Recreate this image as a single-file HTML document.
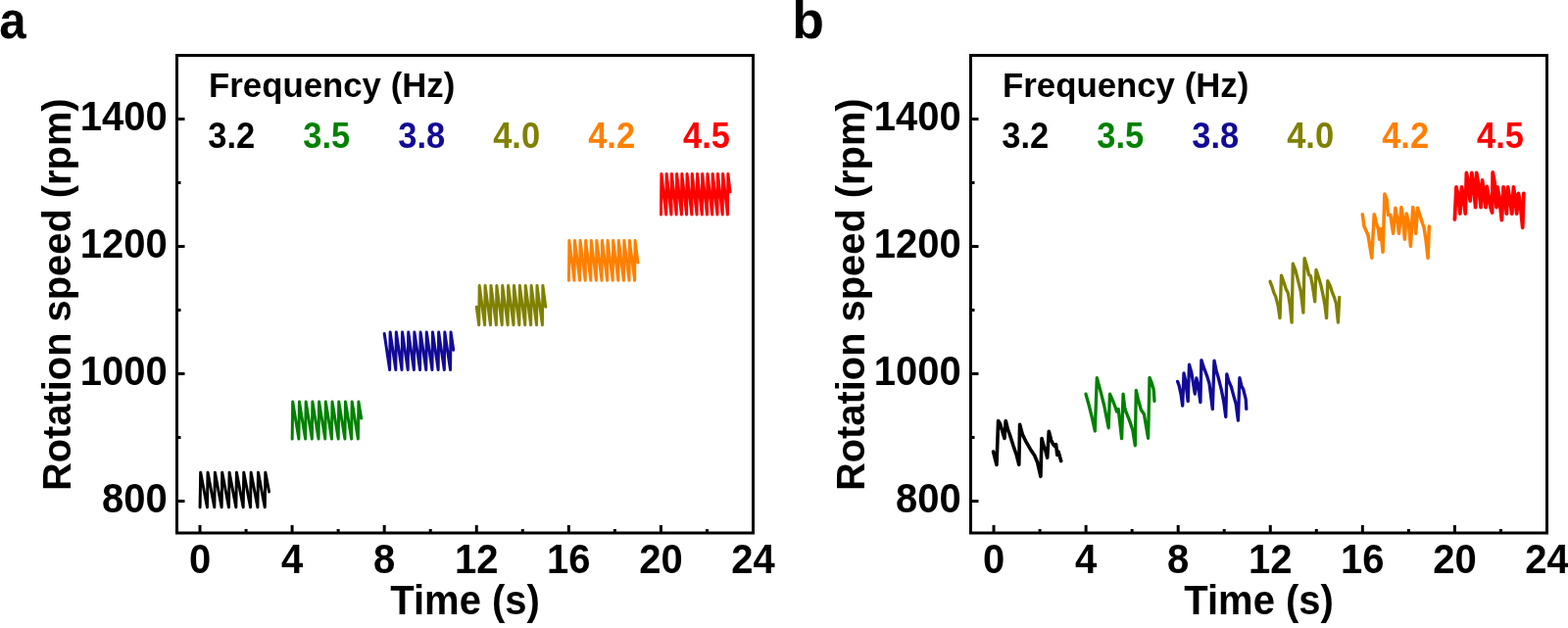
<!DOCTYPE html>
<html><head><meta charset="utf-8"><title>Rotation speed vs time</title>
<style>html,body{margin:0;padding:0;background:#fff;}svg{display:block;}</style></head>
<body><svg width="1600" height="641" viewBox="0 0 1600 641" font-family="'Liberation Sans', Arial, Helvetica, sans-serif" font-weight="bold">
<rect width="1600" height="641" fill="#fff"/>
<rect x="180.5" y="56.5" width="588" height="487.5" fill="none" stroke="#000" stroke-width="3"/>
<line x1="204.02" y1="544.0" x2="204.02" y2="536.0" stroke="#000" stroke-width="3"/>
<line x1="251.06" y1="544.0" x2="251.06" y2="540.0" stroke="#000" stroke-width="3"/>
<line x1="298.10" y1="544.0" x2="298.10" y2="536.0" stroke="#000" stroke-width="3"/>
<line x1="345.14" y1="544.0" x2="345.14" y2="540.0" stroke="#000" stroke-width="3"/>
<line x1="392.18" y1="544.0" x2="392.18" y2="536.0" stroke="#000" stroke-width="3"/>
<line x1="439.22" y1="544.0" x2="439.22" y2="540.0" stroke="#000" stroke-width="3"/>
<line x1="486.26" y1="544.0" x2="486.26" y2="536.0" stroke="#000" stroke-width="3"/>
<line x1="533.30" y1="544.0" x2="533.30" y2="540.0" stroke="#000" stroke-width="3"/>
<line x1="580.34" y1="544.0" x2="580.34" y2="536.0" stroke="#000" stroke-width="3"/>
<line x1="627.38" y1="544.0" x2="627.38" y2="540.0" stroke="#000" stroke-width="3"/>
<line x1="674.42" y1="544.0" x2="674.42" y2="536.0" stroke="#000" stroke-width="3"/>
<line x1="721.46" y1="544.0" x2="721.46" y2="540.0" stroke="#000" stroke-width="3"/>
<line x1="180.5" y1="511.50" x2="188.5" y2="511.50" stroke="#000" stroke-width="3"/>
<line x1="180.5" y1="446.50" x2="184.5" y2="446.50" stroke="#000" stroke-width="3"/>
<line x1="180.5" y1="381.50" x2="188.5" y2="381.50" stroke="#000" stroke-width="3"/>
<line x1="180.5" y1="316.50" x2="184.5" y2="316.50" stroke="#000" stroke-width="3"/>
<line x1="180.5" y1="251.50" x2="188.5" y2="251.50" stroke="#000" stroke-width="3"/>
<line x1="180.5" y1="186.50" x2="184.5" y2="186.50" stroke="#000" stroke-width="3"/>
<line x1="180.5" y1="121.50" x2="188.5" y2="121.50" stroke="#000" stroke-width="3"/>
<text transform="translate(204.02,585.00) scale(1,1.04)" font-size="40" text-anchor="middle">0</text>
<text transform="translate(298.10,585.00) scale(1,1.04)" font-size="40" text-anchor="middle">4</text>
<text transform="translate(392.18,585.00) scale(1,1.04)" font-size="40" text-anchor="middle">8</text>
<text transform="translate(486.26,585.00) scale(1,1.04)" font-size="40" text-anchor="middle">12</text>
<text transform="translate(580.34,585.00) scale(1,1.04)" font-size="40" text-anchor="middle">16</text>
<text transform="translate(674.42,585.00) scale(1,1.04)" font-size="40" text-anchor="middle">20</text>
<text transform="translate(768.50,585.00) scale(1,1.04)" font-size="40" text-anchor="middle">24</text>
<text transform="translate(170.80,523.30) scale(1,1.04)" font-size="40" text-anchor="end">800</text>
<text transform="translate(170.80,393.30) scale(1,1.04)" font-size="40" text-anchor="end">1000</text>
<text transform="translate(170.80,263.30) scale(1,1.04)" font-size="40" text-anchor="end">1200</text>
<text transform="translate(170.80,133.30) scale(1,1.04)" font-size="40" text-anchor="end">1400</text>
<text transform="translate(398.30,626.90) scale(1,1.04)" font-size="40">Time (s)</text>
<text transform="translate(72.2,501.0) rotate(-90) scale(1,1.04)" font-size="39.85">Rotation speed (rpm)</text>
<text x="213.00" y="98.90" font-size="34.8">Frequency (Hz)</text>
<text transform="translate(212.30,150.80) scale(1,1.07)" font-size="34.5" fill="#000000">3.2</text>
<text transform="translate(309.26,150.80) scale(1,1.07)" font-size="34.5" fill="#008000">3.5</text>
<text transform="translate(406.22,150.80) scale(1,1.07)" font-size="34.5" fill="#120a96">3.8</text>
<text transform="translate(503.18,150.80) scale(1,1.07)" font-size="34.5" fill="#808000">4.0</text>
<text transform="translate(600.14,150.80) scale(1,1.07)" font-size="34.5" fill="#ff8000">4.2</text>
<text transform="translate(697.10,150.80) scale(1,1.07)" font-size="34.5" fill="#ff0000">4.5</text>
<text transform="translate(-0.8,39) scale(0.92,1)" font-size="53.5">a</text>
<polyline points="204.02,517.43 204.09,517.80 204.68,482.19 211.44,517.81 212.03,482.19 218.79,517.80 219.38,482.19 226.14,517.80 226.73,482.19 233.49,517.80 234.08,482.19 240.84,517.81 241.43,482.19 248.19,517.81 248.78,482.19 255.54,517.81 256.13,482.19 262.89,517.81 263.48,482.19 270.24,517.81 270.83,482.19 274.58,501.95" fill="none" stroke="#000000" stroke-width="3" stroke-linejoin="round" stroke-linecap="round"/>
<polyline points="298.10,447.56 298.17,447.99 298.71,409.97 304.89,447.99 305.43,409.97 311.61,447.99 312.15,409.97 318.33,447.99 318.87,409.97 325.05,447.99 325.59,409.97 331.77,447.99 332.31,409.97 338.49,448.00 339.03,409.97 345.21,447.99 345.75,409.97 351.93,447.99 352.47,409.97 358.65,447.99 359.19,409.97 365.37,447.99 365.91,409.97 368.66,426.90" fill="none" stroke="#008000" stroke-width="3" stroke-linejoin="round" stroke-linecap="round"/>
<polyline points="392.18,340.58 397.64,377.47 398.13,338.99 403.83,377.47 404.32,338.99 410.02,377.47 410.51,338.99 416.21,377.47 416.70,338.99 422.40,377.47 422.89,338.99 428.59,377.47 429.08,338.99 434.78,377.47 435.27,338.99 440.97,377.47 441.46,338.99 447.15,377.47 447.65,338.99 453.34,377.47 453.84,338.99 459.53,377.47 460.03,338.99 462.74,357.31" fill="none" stroke="#120a96" stroke-width="3" stroke-linejoin="round" stroke-linecap="round"/>
<polyline points="486.26,313.34 488.73,331.71 489.20,291.48 494.61,331.71 495.08,291.48 500.49,331.71 500.96,291.48 506.37,331.71 506.84,291.48 512.25,331.71 512.72,291.48 518.13,331.71 518.60,291.48 524.01,331.71 524.48,291.48 529.89,331.71 530.36,291.48 535.77,331.71 536.24,291.48 541.65,331.71 542.12,291.48 547.53,331.71 548.00,291.48 553.41,331.71 553.88,291.48 556.82,313.34" fill="none" stroke="#808000" stroke-width="3" stroke-linejoin="round" stroke-linecap="round"/>
<polyline points="580.34,285.72 580.41,286.27 580.86,245.52 586.01,286.27 586.46,245.52 591.61,286.27 592.06,245.52 597.21,286.27 597.66,245.52 602.81,286.27 603.26,245.52 608.41,286.27 608.86,245.52 614.01,286.27 614.46,245.52 619.61,286.27 620.06,245.52 625.21,286.27 625.66,245.52 630.81,286.27 631.26,245.52 636.41,286.27 636.86,245.52 642.01,286.27 642.46,245.52 647.61,286.27 648.06,245.52 650.90,268.00" fill="none" stroke="#ff8000" stroke-width="3" stroke-linejoin="round" stroke-linecap="round"/>
<polyline points="674.42,218.39 674.49,219.00 674.91,177.53 679.72,219.00 680.14,177.53 684.94,219.00 685.36,177.53 690.17,219.00 690.59,177.53 695.40,219.00 695.82,177.53 700.62,219.00 701.04,177.53 705.85,219.00 706.27,177.53 711.08,219.00 711.50,177.53 716.30,219.00 716.72,177.53 721.53,219.00 721.95,177.53 726.76,219.00 727.18,177.53 731.98,219.00 732.40,177.53 737.21,219.00 737.63,177.53 742.44,219.00 742.86,177.53 744.98,195.85" fill="none" stroke="#ff0000" stroke-width="3" stroke-linejoin="round" stroke-linecap="round"/>
<rect x="990.5" y="56.5" width="588" height="487.5" fill="none" stroke="#000" stroke-width="3"/>
<line x1="1014.02" y1="544.0" x2="1014.02" y2="536.0" stroke="#000" stroke-width="3"/>
<line x1="1061.06" y1="544.0" x2="1061.06" y2="540.0" stroke="#000" stroke-width="3"/>
<line x1="1108.10" y1="544.0" x2="1108.10" y2="536.0" stroke="#000" stroke-width="3"/>
<line x1="1155.14" y1="544.0" x2="1155.14" y2="540.0" stroke="#000" stroke-width="3"/>
<line x1="1202.18" y1="544.0" x2="1202.18" y2="536.0" stroke="#000" stroke-width="3"/>
<line x1="1249.22" y1="544.0" x2="1249.22" y2="540.0" stroke="#000" stroke-width="3"/>
<line x1="1296.26" y1="544.0" x2="1296.26" y2="536.0" stroke="#000" stroke-width="3"/>
<line x1="1343.30" y1="544.0" x2="1343.30" y2="540.0" stroke="#000" stroke-width="3"/>
<line x1="1390.34" y1="544.0" x2="1390.34" y2="536.0" stroke="#000" stroke-width="3"/>
<line x1="1437.38" y1="544.0" x2="1437.38" y2="540.0" stroke="#000" stroke-width="3"/>
<line x1="1484.42" y1="544.0" x2="1484.42" y2="536.0" stroke="#000" stroke-width="3"/>
<line x1="1531.46" y1="544.0" x2="1531.46" y2="540.0" stroke="#000" stroke-width="3"/>
<line x1="990.5" y1="511.50" x2="998.5" y2="511.50" stroke="#000" stroke-width="3"/>
<line x1="990.5" y1="446.50" x2="994.5" y2="446.50" stroke="#000" stroke-width="3"/>
<line x1="990.5" y1="381.50" x2="998.5" y2="381.50" stroke="#000" stroke-width="3"/>
<line x1="990.5" y1="316.50" x2="994.5" y2="316.50" stroke="#000" stroke-width="3"/>
<line x1="990.5" y1="251.50" x2="998.5" y2="251.50" stroke="#000" stroke-width="3"/>
<line x1="990.5" y1="186.50" x2="994.5" y2="186.50" stroke="#000" stroke-width="3"/>
<line x1="990.5" y1="121.50" x2="998.5" y2="121.50" stroke="#000" stroke-width="3"/>
<text transform="translate(1014.02,585.00) scale(1,1.04)" font-size="40" text-anchor="middle">0</text>
<text transform="translate(1108.10,585.00) scale(1,1.04)" font-size="40" text-anchor="middle">4</text>
<text transform="translate(1202.18,585.00) scale(1,1.04)" font-size="40" text-anchor="middle">8</text>
<text transform="translate(1296.26,585.00) scale(1,1.04)" font-size="40" text-anchor="middle">12</text>
<text transform="translate(1390.34,585.00) scale(1,1.04)" font-size="40" text-anchor="middle">16</text>
<text transform="translate(1484.42,585.00) scale(1,1.04)" font-size="40" text-anchor="middle">20</text>
<text transform="translate(1578.50,585.00) scale(1,1.04)" font-size="40" text-anchor="middle">24</text>
<text transform="translate(980.80,523.30) scale(1,1.04)" font-size="40" text-anchor="end">800</text>
<text transform="translate(980.80,393.30) scale(1,1.04)" font-size="40" text-anchor="end">1000</text>
<text transform="translate(980.80,263.30) scale(1,1.04)" font-size="40" text-anchor="end">1200</text>
<text transform="translate(980.80,133.30) scale(1,1.04)" font-size="40" text-anchor="end">1400</text>
<text transform="translate(1208.30,626.90) scale(1,1.04)" font-size="40">Time (s)</text>
<text transform="translate(882.2,501.0) rotate(-90) scale(1,1.04)" font-size="39.85">Rotation speed (rpm)</text>
<text x="1023.00" y="98.90" font-size="34.8">Frequency (Hz)</text>
<text transform="translate(1022.30,150.80) scale(1,1.07)" font-size="34.5" fill="#000000">3.2</text>
<text transform="translate(1119.26,150.80) scale(1,1.07)" font-size="34.5" fill="#008000">3.5</text>
<text transform="translate(1216.22,150.80) scale(1,1.07)" font-size="34.5" fill="#120a96">3.8</text>
<text transform="translate(1313.18,150.80) scale(1,1.07)" font-size="34.5" fill="#808000">4.0</text>
<text transform="translate(1410.14,150.80) scale(1,1.07)" font-size="34.5" fill="#ff8000">4.2</text>
<text transform="translate(1507.10,150.80) scale(1,1.07)" font-size="34.5" fill="#ff0000">4.5</text>
<text x="808.20" y="39.00" font-size="53.5">b</text>
<polyline points="1013.6,461.0 1017.0,474.5 1018.6,429.5 1020.5,432.5 1022.6,439.5 1025.0,447.5 1026.2,429.5 1028.2,437.5 1030.5,444.0 1034.0,455.0 1037.3,464.5 1039.8,474.3 1040.6,433.3 1043.4,443.6 1046.7,450.3 1051.2,458.2 1055.7,465.0 1058.5,471.7 1061.9,486.3 1063.0,447.5 1065.3,456.0 1067.0,460.4 1068.7,467.2 1070.3,440.2 1072.6,449.2 1074.8,453.7 1076.5,455.5 1077.6,453.7 1078.8,464.4 1080.0,461.0 1082.7,470.6" fill="none" stroke="#000000" stroke-width="3.6" stroke-linejoin="round" stroke-linecap="round"/>
<polyline points="1108.0,402.2 1111.0,413.0 1114.0,425.0 1117.3,440.0 1119.3,385.6 1122.6,397.6 1126.6,413.5 1131.2,436.8 1132.5,402.2 1135.2,408.2 1137.8,414.8 1139.5,420.0 1141.2,417.5 1144.6,447.7 1146.1,402.1 1147.6,415.3 1148.6,419.3 1152.2,428.4 1155.7,438.6 1158.3,454.8 1159.3,398.5 1161.3,407.2 1164.3,418.3 1167.4,422.8 1171.6,447.3 1173.0,385.5 1175.1,390.4 1177.2,397.5 1178.0,409.4" fill="none" stroke="#008000" stroke-width="3.3" stroke-linejoin="round" stroke-linecap="round"/>
<polyline points="1201.6,389.4 1203.1,393.4 1205.1,402.6 1206.7,414.2 1208.0,380.8 1209.7,388.4 1212.2,409.6 1213.5,372.2 1215.8,380.3 1219.3,402.0 1220.9,386.0 1222.4,392.4 1224.9,410.7 1225.9,367.6 1228.4,375.2 1231.5,383.3 1234.0,391.4 1237.3,417.6 1239.0,368.1 1241.2,378.7 1243.1,385.0 1246.2,397.4 1248.7,409.9 1250.8,425.5 1251.8,381.8 1253.7,388.7 1256.2,394.3 1258.7,403.6 1261.2,412.4 1263.4,429.2 1264.9,385.6 1266.8,393.7 1268.7,397.4 1271.2,407.4 1271.8,417.4" fill="none" stroke="#120a96" stroke-width="3.3" stroke-linejoin="round" stroke-linecap="round"/>
<polyline points="1296.0,287.3 1298.1,292.9 1300.0,299.1 1301.8,302.9 1304.3,312.9 1306.0,324.7 1307.5,281.1 1310.0,288.0 1312.4,295.4 1314.3,299.1 1316.2,310.4 1318.1,329.1 1319.3,269.2 1321.8,275.5 1324.3,285.4 1327.4,297.9 1329.9,319.1 1331.1,263.6 1333.6,271.7 1335.5,280.4 1337.4,281.7 1339.0,290.0 1340.5,299.1 1341.7,307.9 1343.0,275.5 1345.5,283.0 1348.0,291.7 1350.4,302.9 1352.0,312.0 1353.6,324.7 1354.8,286.7 1357.3,291.7 1359.2,297.9 1361.7,304.1 1363.5,310.4 1365.4,329.1 1366.7,303.5" fill="none" stroke="#808000" stroke-width="3.3" stroke-linejoin="round" stroke-linecap="round"/>
<polyline points="1390.3,218.7 1392.0,231.0 1396.0,240.0 1399.8,263.2 1402.2,218.7 1404.5,228.0 1406.5,234.0 1407.5,244.2 1408.7,233.5 1411.1,257.2 1412.9,197.9 1415.2,204.0 1416.4,219.3 1418.8,219.3 1421.6,238.3 1423.9,212.2 1425.5,222.0 1427.5,238.3 1429.9,211.6 1431.5,222.0 1433.4,244.2 1435.2,218.1 1437.5,228.0 1439.4,251.3 1441.7,211.6 1443.2,222.0 1444.7,238.3 1446.5,212.2 1449.0,220.0 1451.5,228.0 1453.0,232.0 1455.0,245.0 1457.1,263.2 1458.3,231.1" fill="none" stroke="#ff8000" stroke-width="3.5" stroke-linejoin="round" stroke-linecap="round"/>
<polyline points="1484.4,224.0 1486.0,191.0 1488.0,200.0 1489.8,218.0 1491.5,191.0 1493.0,200.0 1495.3,218.0 1496.4,176.5 1498.0,185.0 1500.2,205.0 1501.8,176.5 1503.5,188.0 1505.6,211.6 1506.7,176.5 1508.5,188.0 1511.1,211.6 1512.5,184.0 1514.0,195.0 1516.0,211.6 1517.2,190.5 1519.0,200.0 1520.5,210.0 1522.6,217.0 1523.2,176.0 1525.0,186.0 1527.0,211.6 1528.0,191.0 1530.0,202.0 1532.4,224.7 1534.1,191.0 1535.8,202.0 1537.4,218.2 1538.6,191.0 1540.5,202.0 1542.8,218.2 1544.4,191.0 1546.0,202.0 1547.7,218.2 1549.4,197.4 1551.5,210.0 1553.7,232.3 1554.8,197.4" fill="none" stroke="#ff0000" stroke-width="3.8" stroke-linejoin="round" stroke-linecap="round"/>
</svg></body></html>
